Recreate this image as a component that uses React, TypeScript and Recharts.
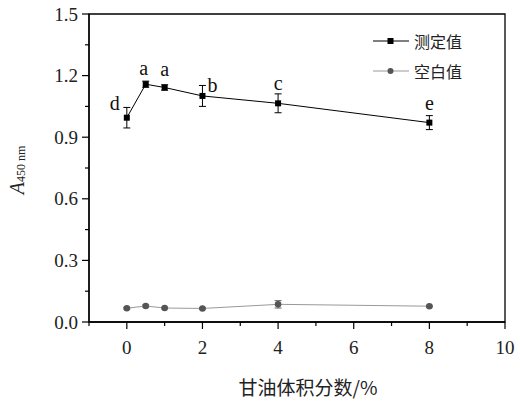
import React from 'react';
import { ComposedChart, Line, XAxis, YAxis, ErrorBar, Legend, ReferenceArea, LabelList, Label } from 'recharts';

// glycerol volume fraction (%)
const glycerol = [0, 0.5, 1, 2, 4, 8];
// measured absorbance and its error
const measured = [0.995, 1.158, 1.142, 1.101, 1.065, 0.971];
const measuredErr = [0.05, 0.015, 0.013, 0.051, 0.046, 0.034];
// blank absorbance and its error
const blank = [0.067, 0.078, 0.068, 0.066, 0.086, 0.077];
const blankErr = [0.004, 0.005, 0.004, 0.004, 0.018, 0.004];
// significance letters over the measured series
const letters = ['d', 'a', 'a', 'b', 'c', 'e'];

const xTicks = [-1, 0, 1, 2, 3, 4, 5, 6, 7, 8, 9, 10];
const xMajor = [0, 2, 4, 6, 8, 10];
const yTicks = [0, 0.15, 0.3, 0.45, 0.6, 0.75, 0.9, 1.05, 1.2, 1.35, 1.5];
const yMajor = [0, 0.3, 0.6, 0.9, 1.2, 1.5];

const seriesNames = ['测定值', '空白值'];

const data = glycerol.map((x, i) => ({
  x,
  measured: measured[i],
  measuredErr: measuredErr[i],
  blank: blank[i],
  blankErr: blankErr[i],
  letter: letters[i],
}));

// where each letter sits relative to its point
const letterOffsets = [
  { dx: -12, dy: -15 },
  { dx: -2, dy: -16 },
  { dx: 0, dy: -19 },
  { dx: 10, dy: -11 },
  { dx: 0, dy: -20 },
  { dx: 0, dy: -20 },
];

const SERIF = 'Liberation Serif, DejaVu Serif, serif';
const CJK = "'Noto Sans CJK SC', sans-serif";
const TICK = 7;

const XTick = (props: any) => {
  const { x, y, payload } = props;
  const axisY = y - TICK - 12;
  const major = xMajor.includes(payload.value);
  return (
    <g>
      <line x1={x} x2={x} y1={axisY} y2={axisY + (major ? 7 : 4)} stroke="#000" strokeWidth={1.2} />
      {major && (
        <text x={x} y={y} dy="0.71em" textAnchor="middle" fontFamily={SERIF} fontSize={19} fill="#222">
          {payload.value}
        </text>
      )}
    </g>
  );
};

const YTick = (props: any) => {
  const { x, y, payload } = props;
  const axisX = x + TICK + 4;
  const major = yMajor.includes(payload.value);
  return (
    <g>
      <line x1={axisX - (major ? 7 : 4)} x2={axisX} y1={y} y2={y} stroke="#000" strokeWidth={1.2} />
      {major && (
        <text x={x} y={y} dy="0.35em" textAnchor="end" fontFamily={SERIF} fontSize={19} fill="#222">
          {payload.value.toFixed(1)}
        </text>
      )}
    </g>
  );
};

const SquareDot = (p: any) => (
  <rect key={`m-${p.index}`} x={p.cx - 3} y={p.cy - 3} width={6} height={6} fill="#000" />
);

const RoundDot = (p: any) => <circle key={`b-${p.index}`} cx={p.cx} cy={p.cy} r={3.3} fill="#555" />;

const LetterLabel = (p: any) => {
  const off = letterOffsets[p.index] || { dx: 0, dy: -18 };
  return (
    <text x={p.x + off.dx} y={p.y + off.dy} dy="0.35em" textAnchor="middle" fontFamily={SERIF} fontSize={20} fill="#111">
      {p.value}
    </text>
  );
};

const renderLegend = () => (
  <div style={{ fontFamily: CJK, fontSize: 16, color: '#222' }}>
    {seriesNames.map((name, i) => (
      <div key={name} style={{ display: 'flex', alignItems: 'center', height: 30 }}>
        <svg width={36} height={10}>
          <line x1={0} x2={36} y1={5} y2={5} stroke={i === 0 ? '#000' : '#999'} strokeWidth={1} />
          {i === 0 ? <rect x={14.5} y={2} width={6} height={6} fill="#000" /> : <circle cx={17.5} cy={5} r={3} fill="#555" />}
        </svg>
        <span style={{ marginLeft: 5 }}>{name}</span>
      </div>
    ))}
  </div>
);

export default function App() {
  return (
    <div style={{ position: 'absolute', left: 0, top: 0, width: 520, height: 402, background: '#fff', fontFamily: SERIF }}>
      <ComposedChart width={520} height={402} data={data} margin={{ top: 14, right: 15, bottom: 0, left: 0 }} style={{ fontFamily: SERIF }}>
        <XAxis
          dataKey="x"
          type="number"
          domain={[-1, 10]}
          ticks={xTicks}
          interval={0}
          tickLine={false}
          tickSize={TICK}
          tickMargin={12}
          tick={<XTick />}
          height={80}
          axisLine={{ stroke: '#000', strokeWidth: 1.3 }}
        >
          <Label
            content={(p: any) => {
              const vb = p.viewBox;
              return (
                <text x={vb.x + vb.width / 2 + 11} y={vb.y + 66} dy="0.35em" textAnchor="middle" fontFamily={CJK} fontSize={19} fill="#222">
                  甘油体积分数/%
                </text>
              );
            }}
          />
        </XAxis>
        <YAxis
          type="number"
          domain={[0, 1.5]}
          ticks={yTicks}
          interval={0}
          tickLine={false}
          tickSize={TICK}
          tickMargin={4}
          tick={<YTick />}
          width={89}
          axisLine={{ stroke: '#000', strokeWidth: 1.3 }}
        >
          <Label
            content={(p: any) => {
              const vb = p.viewBox;
              const cx = vb.x + 17;
              const cy = vb.y + vb.height / 2 + 2;
              return (
                <text x={cx} y={cy} transform={`rotate(-90 ${cx} ${cy})`} textAnchor="middle" dominantBaseline="central" fontFamily={SERIF} fill="#222">
                  <tspan fontStyle="italic" fontSize={20}>A</tspan>
                  <tspan fontSize={12} dy={4}>450 nm</tspan>
                </text>
              );
            }}
          />
        </YAxis>
        <ReferenceArea x1={-1} x2={10} y1={0} y2={1.5} fill="none" stroke="#000" strokeWidth={1.3} />
        <Legend
          layout="vertical"
          align="center"
          verticalAlign="middle"
          content={renderLegend}
          wrapperStyle={{ top: 26, left: 373, width: 120 }}
        />
        <Line
          dataKey="blank"
          name={seriesNames[1]}
          stroke="#999"
          strokeWidth={1}
          dot={RoundDot}
          activeDot={false}
          isAnimationActive={false}
        >
          <ErrorBar dataKey="blankErr" width={3.5} stroke="#666" strokeWidth={1} />
        </Line>
        <Line
          dataKey="measured"
          name={seriesNames[0]}
          stroke="#000"
          strokeWidth={1}
          dot={SquareDot}
          activeDot={false}
          isAnimationActive={false}
        >
          <ErrorBar dataKey="measuredErr" width={3.5} stroke="#000" strokeWidth={1} />
          <LabelList dataKey="letter" content={LetterLabel} />
        </Line>
      </ComposedChart>
    </div>
  );
}
